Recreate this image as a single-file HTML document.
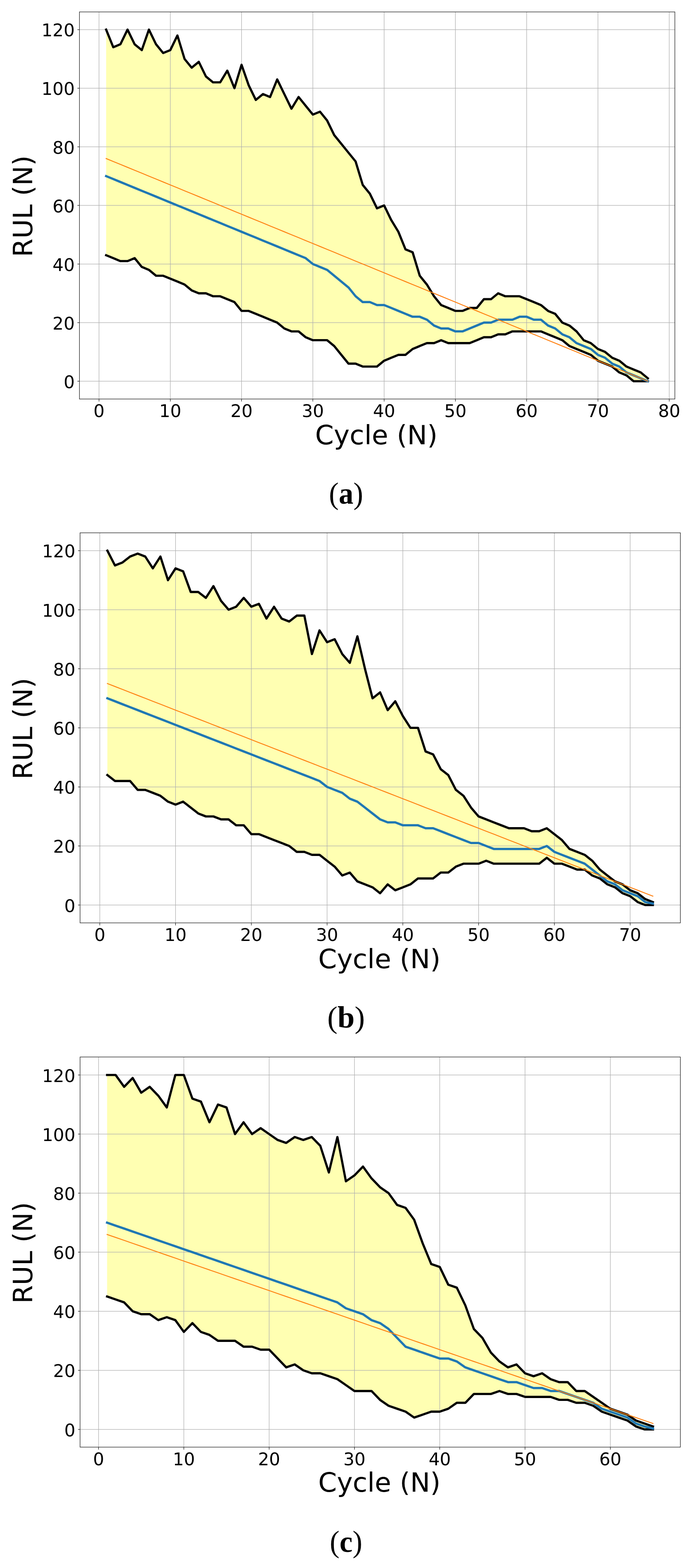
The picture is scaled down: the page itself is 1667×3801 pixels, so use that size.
<!DOCTYPE html>
<html><head><meta charset="utf-8"><title>RUL prediction figure</title>
<style>html,body{margin:0;padding:0;background:#fff;}body{width:1667px;height:3801px;overflow:hidden;}svg{display:block;}</style>
</head><body><svg width="1667" height="3801" viewBox="0 0 1667 3801" font-family="DejaVu Sans, sans-serif" fill="#000"><g><path d="M257.17 71.8 L274.44 114.41 L291.71 107.31 L308.98 71.8 L326.25 107.31 L343.52 121.52 L360.79 71.8 L378.06 107.31 L395.33 128.62 L412.6 121.52 L429.87 86 L447.14 142.83 L464.41 164.13 L481.68 149.93 L498.95 185.44 L516.22 199.64 L533.49 199.64 L550.76 171.24 L568.03 213.85 L585.3 157.03 L602.57 206.75 L619.84 242.26 L637.11 228.06 L654.38 235.16 L671.65 192.54 L688.92 228.06 L706.19 263.57 L723.46 235.16 L740.73 256.47 L758 277.77 L775.27 270.67 L792.54 291.98 L809.81 327.49 L827.08 348.8 L844.35 370.11 L861.62 391.41 L878.89 448.23 L896.16 469.54 L913.43 505.05 L930.7 497.95 L947.97 533.46 L965.24 561.87 L982.51 604.49 L999.78 611.59 L1017.05 668.41 L1034.32 689.72 L1051.59 718.13 L1068.86 739.44 L1086.13 746.54 L1103.4 753.64 L1120.67 753.64 L1137.94 746.54 L1155.21 746.54 L1172.48 725.23 L1189.75 725.23 L1207.02 711.03 L1224.29 718.13 L1241.56 718.13 L1258.83 718.13 L1276.1 725.23 L1293.37 732.33 L1310.64 739.44 L1327.91 753.64 L1345.18 760.74 L1362.45 782.05 L1379.72 789.15 L1396.99 803.36 L1414.26 824.66 L1431.53 831.77 L1448.8 845.97 L1466.07 853.08 L1483.34 867.28 L1500.61 874.38 L1517.88 888.59 L1535.15 895.69 L1552.42 902.79 L1569.69 917 L1569.69 924.1 L1552.42 924.1 L1535.15 924.1 L1517.88 909.89 L1500.61 902.79 L1483.34 888.59 L1466.07 881.49 L1448.8 874.38 L1431.53 860.18 L1414.26 853.08 L1396.99 845.97 L1379.72 838.87 L1362.45 824.66 L1345.18 817.56 L1327.91 810.46 L1310.64 803.36 L1293.37 803.36 L1276.1 803.36 L1258.83 803.36 L1241.56 803.36 L1224.29 810.46 L1207.02 810.46 L1189.75 817.56 L1172.48 817.56 L1155.21 824.66 L1137.94 831.77 L1120.67 831.77 L1103.4 831.77 L1086.13 831.77 L1068.86 824.66 L1051.59 831.77 L1034.32 831.77 L1017.05 838.87 L999.78 845.97 L982.51 860.18 L965.24 860.18 L947.97 867.28 L930.7 874.38 L913.43 888.59 L896.16 888.59 L878.89 888.59 L861.62 881.49 L844.35 881.49 L827.08 860.18 L809.81 838.87 L792.54 824.66 L775.27 824.66 L758 824.66 L740.73 817.56 L723.46 803.36 L706.19 803.36 L688.92 796.25 L671.65 782.05 L654.38 774.95 L637.11 767.85 L619.84 760.74 L602.57 753.64 L585.3 753.64 L568.03 732.33 L550.76 725.23 L533.49 718.13 L516.22 718.13 L498.95 711.03 L481.68 711.03 L464.41 703.92 L447.14 689.72 L429.87 682.62 L412.6 675.51 L395.33 668.41 L378.06 668.41 L360.79 654.21 L343.52 647.1 L326.25 625.8 L308.98 632.9 L291.71 632.9 L274.44 625.8 L257.17 618.69 Z" fill="#ffff00" fill-opacity="0.3"/><path d="M239.9 28.9 V967.3 M412.6 28.9 V967.3 M585.3 28.9 V967.3 M758 28.9 V967.3 M930.7 28.9 V967.3 M1103.4 28.9 V967.3 M1276.1 28.9 V967.3 M1448.8 28.9 V967.3 M1621.5 28.9 V967.3 M192.5 924.1 H1635.2 M192.5 782.05 H1635.2 M192.5 640 H1635.2 M192.5 497.95 H1635.2 M192.5 355.9 H1635.2 M192.5 213.85 H1635.2 M192.5 71.8 H1635.2" stroke="#b0b0b0" stroke-width="1.25" fill="none"/><path d="M257.17 71.8 L274.44 114.41 L291.71 107.31 L308.98 71.8 L326.25 107.31 L343.52 121.52 L360.79 71.8 L378.06 107.31 L395.33 128.62 L412.6 121.52 L429.87 86 L447.14 142.83 L464.41 164.13 L481.68 149.93 L498.95 185.44 L516.22 199.64 L533.49 199.64 L550.76 171.24 L568.03 213.85 L585.3 157.03 L602.57 206.75 L619.84 242.26 L637.11 228.06 L654.38 235.16 L671.65 192.54 L688.92 228.06 L706.19 263.57 L723.46 235.16 L740.73 256.47 L758 277.77 L775.27 270.67 L792.54 291.98 L809.81 327.49 L827.08 348.8 L844.35 370.11 L861.62 391.41 L878.89 448.23 L896.16 469.54 L913.43 505.05 L930.7 497.95 L947.97 533.46 L965.24 561.87 L982.51 604.49 L999.78 611.59 L1017.05 668.41 L1034.32 689.72 L1051.59 718.13 L1068.86 739.44 L1086.13 746.54 L1103.4 753.64 L1120.67 753.64 L1137.94 746.54 L1155.21 746.54 L1172.48 725.23 L1189.75 725.23 L1207.02 711.03 L1224.29 718.13 L1241.56 718.13 L1258.83 718.13 L1276.1 725.23 L1293.37 732.33 L1310.64 739.44 L1327.91 753.64 L1345.18 760.74 L1362.45 782.05 L1379.72 789.15 L1396.99 803.36 L1414.26 824.66 L1431.53 831.77 L1448.8 845.97 L1466.07 853.08 L1483.34 867.28 L1500.61 874.38 L1517.88 888.59 L1535.15 895.69 L1552.42 902.79 L1569.69 917" stroke="#000" stroke-width="5.4" fill="none" stroke-linejoin="round" stroke-linecap="square"/><path d="M257.17 618.69 L274.44 625.8 L291.71 632.9 L308.98 632.9 L326.25 625.8 L343.52 647.1 L360.79 654.21 L378.06 668.41 L395.33 668.41 L412.6 675.51 L429.87 682.62 L447.14 689.72 L464.41 703.92 L481.68 711.03 L498.95 711.03 L516.22 718.13 L533.49 718.13 L550.76 725.23 L568.03 732.33 L585.3 753.64 L602.57 753.64 L619.84 760.74 L637.11 767.85 L654.38 774.95 L671.65 782.05 L688.92 796.25 L706.19 803.36 L723.46 803.36 L740.73 817.56 L758 824.66 L775.27 824.66 L792.54 824.66 L809.81 838.87 L827.08 860.18 L844.35 881.49 L861.62 881.49 L878.89 888.59 L896.16 888.59 L913.43 888.59 L930.7 874.38 L947.97 867.28 L965.24 860.18 L982.51 860.18 L999.78 845.97 L1017.05 838.87 L1034.32 831.77 L1051.59 831.77 L1068.86 824.66 L1086.13 831.77 L1103.4 831.77 L1120.67 831.77 L1137.94 831.77 L1155.21 824.66 L1172.48 817.56 L1189.75 817.56 L1207.02 810.46 L1224.29 810.46 L1241.56 803.36 L1258.83 803.36 L1276.1 803.36 L1293.37 803.36 L1310.64 803.36 L1327.91 810.46 L1345.18 817.56 L1362.45 824.66 L1379.72 838.87 L1396.99 845.97 L1414.26 853.08 L1431.53 860.18 L1448.8 874.38 L1466.07 881.49 L1483.34 888.59 L1500.61 902.79 L1517.88 909.89 L1535.15 924.1 L1552.42 924.1 L1569.69 924.1" stroke="#000" stroke-width="5.4" fill="none" stroke-linejoin="round" stroke-linecap="square"/><path d="M257.17 426.93 L274.44 434.03 L291.71 441.13 L308.98 448.23 L326.25 455.34 L343.52 462.44 L360.79 469.54 L378.06 476.64 L395.33 483.75 L412.6 490.85 L429.87 497.95 L447.14 505.05 L464.41 512.15 L481.68 519.26 L498.95 526.36 L516.22 533.46 L533.49 540.57 L550.76 547.67 L568.03 554.77 L585.3 561.87 L602.57 568.98 L619.84 576.08 L637.11 583.18 L654.38 590.28 L671.65 597.38 L688.92 604.49 L706.19 611.59 L723.46 618.69 L740.73 625.8 L758 640 L775.27 647.1 L792.54 654.21 L809.81 668.41 L827.08 682.62 L844.35 696.82 L861.62 718.13 L878.89 732.33 L896.16 732.33 L913.43 739.44 L930.7 739.44 L947.97 746.54 L965.24 753.64 L982.51 760.74 L999.78 767.85 L1017.05 767.85 L1034.32 774.95 L1051.59 789.15 L1068.86 796.25 L1086.13 796.25 L1103.4 803.36 L1120.67 803.36 L1137.94 796.25 L1155.21 789.15 L1172.48 782.05 L1189.75 782.05 L1207.02 774.95 L1224.29 774.95 L1241.56 774.95 L1258.83 767.85 L1276.1 767.85 L1293.37 774.95 L1310.64 774.95 L1327.91 789.15 L1345.18 796.25 L1362.45 810.46 L1379.72 817.56 L1396.99 831.77 L1414.26 838.87 L1431.53 845.97 L1448.8 860.18 L1466.07 867.28 L1483.34 881.49 L1500.61 888.59 L1517.88 902.79 L1535.15 909.89 L1552.42 917 L1569.69 924.1" stroke="#1f77b4" stroke-width="5.5" fill="none" stroke-linejoin="round" stroke-linecap="square"/><path d="M257.17 384.31 L274.44 391.41 L291.71 398.51 L308.98 405.62 L326.25 412.72 L343.52 419.82 L360.79 426.93 L378.06 434.03 L395.33 441.13 L412.6 448.23 L429.87 455.34 L447.14 462.44 L464.41 469.54 L481.68 476.64 L498.95 483.75 L516.22 490.85 L533.49 497.95 L550.76 505.05 L568.03 512.15 L585.3 519.26 L602.57 526.36 L619.84 533.46 L637.11 540.57 L654.38 547.67 L671.65 554.77 L688.92 561.87 L706.19 568.98 L723.46 576.08 L740.73 583.18 L758 590.28 L775.27 597.38 L792.54 604.49 L809.81 611.59 L827.08 618.69 L844.35 625.8 L861.62 632.9 L878.89 640 L896.16 647.1 L913.43 654.21 L930.7 661.31 L947.97 668.41 L965.24 675.51 L982.51 682.62 L999.78 689.72 L1017.05 696.82 L1034.32 703.92 L1051.59 711.03 L1068.86 718.13 L1086.13 725.23 L1103.4 732.33 L1120.67 739.44 L1137.94 746.54 L1155.21 753.64 L1172.48 760.74 L1189.75 767.85 L1207.02 774.95 L1224.29 782.05 L1241.56 789.15 L1258.83 796.25 L1276.1 803.36 L1293.37 810.46 L1310.64 817.56 L1327.91 824.66 L1345.18 831.77 L1362.45 838.87 L1379.72 845.97 L1396.99 853.08 L1414.26 860.18 L1431.53 867.28 L1448.8 874.38 L1466.07 881.49 L1483.34 888.59 L1500.61 895.69 L1517.88 902.79 L1535.15 909.89 L1552.42 917 L1569.69 924.1" stroke="#ff7f0e" stroke-width="2.2" fill="none" stroke-linejoin="round" stroke-linecap="square"/><rect x="192.5" y="28.9" width="1442.7" height="938.4" fill="none" stroke="#1c1c1c" stroke-width="1.25"/><path d="M239.9 967.3 v6 M412.6 967.3 v6 M585.3 967.3 v6 M758 967.3 v6 M930.7 967.3 v6 M1103.4 967.3 v6 M1276.1 967.3 v6 M1448.8 967.3 v6 M1621.5 967.3 v6 M192.5 924.1 h-5 M192.5 782.05 h-5 M192.5 640 h-5 M192.5 497.95 h-5 M192.5 355.9 h-5 M192.5 213.85 h-5 M192.5 71.8 h-5" stroke="#1c1c1c" stroke-width="1.25" fill="none"/><g font-size="42.2"><text x="239.9" y="1011.3" text-anchor="middle">0</text><text x="412.6" y="1011.3" text-anchor="middle">10</text><text x="585.3" y="1011.3" text-anchor="middle">20</text><text x="758" y="1011.3" text-anchor="middle">30</text><text x="930.7" y="1011.3" text-anchor="middle">40</text><text x="1103.4" y="1011.3" text-anchor="middle">50</text><text x="1276.1" y="1011.3" text-anchor="middle">60</text><text x="1448.8" y="1011.3" text-anchor="middle">70</text><text x="1621.5" y="1011.3" text-anchor="middle">80</text><text x="181" y="940.7" text-anchor="end">0</text><text x="181" y="798.65" text-anchor="end">20</text><text x="181" y="656.6" text-anchor="end">40</text><text x="181" y="514.55" text-anchor="end">60</text><text x="181" y="372.5" text-anchor="end">80</text><text x="181" y="230.45" text-anchor="end">100</text><text x="181" y="88.4" text-anchor="end">120</text></g><text x="911.85" y="1076.8" font-size="64.8" text-anchor="middle">Cycle (N)</text><text transform="translate(77.6 499.9) rotate(-90)" x="0" y="0" font-size="64.3" text-anchor="middle">RUL (N)</text><text transform="translate(838.5 1220.8) scale(0.953 1)" x="0" y="0" font-size="74.5" text-anchor="middle" font-family="Liberation Serif, serif">(<tspan font-weight="bold">a</tspan>)</text></g><g><path d="M260.16 1334.82 L278.51 1370.62 L296.87 1363.46 L315.23 1349.14 L333.59 1341.98 L351.94 1349.14 L370.3 1377.77 L388.66 1349.14 L407.01 1406.41 L425.37 1377.77 L443.73 1384.93 L462.08 1435.05 L480.44 1435.05 L498.8 1449.36 L517.15 1420.73 L535.51 1456.52 L553.87 1478 L572.23 1470.84 L590.58 1449.36 L608.94 1470.84 L627.3 1463.68 L645.65 1499.48 L664.01 1470.84 L682.37 1499.48 L700.72 1506.64 L719.08 1492.32 L737.44 1492.32 L755.8 1585.39 L774.15 1528.11 L792.51 1556.75 L810.87 1549.59 L829.22 1585.39 L847.58 1606.86 L865.94 1542.43 L884.3 1621.18 L902.65 1692.77 L921.01 1678.45 L939.37 1721.41 L957.72 1699.93 L976.08 1735.72 L994.44 1764.36 L1012.79 1764.36 L1031.15 1821.63 L1049.51 1828.79 L1067.87 1864.59 L1086.22 1878.9 L1104.58 1914.7 L1122.94 1929.02 L1141.29 1957.65 L1159.65 1979.13 L1178.01 1986.29 L1196.36 1993.45 L1214.72 2000.61 L1233.08 2007.77 L1251.43 2007.77 L1269.79 2007.77 L1288.15 2014.93 L1306.51 2014.93 L1324.86 2007.77 L1343.22 2022.08 L1361.58 2036.4 L1379.93 2057.88 L1398.29 2065.04 L1416.65 2072.2 L1435 2086.52 L1453.36 2107.99 L1471.72 2122.31 L1490.08 2136.63 L1508.43 2143.79 L1526.79 2158.11 L1545.15 2165.26 L1563.5 2179.58 L1581.86 2186.74 L1581.86 2193.9 L1563.5 2193.9 L1545.15 2186.74 L1526.79 2172.42 L1508.43 2165.26 L1490.08 2150.95 L1471.72 2143.79 L1453.36 2129.47 L1435 2122.31 L1416.65 2107.99 L1398.29 2107.99 L1379.93 2100.83 L1361.58 2093.67 L1343.22 2093.67 L1324.86 2079.36 L1306.51 2093.67 L1288.15 2093.67 L1269.79 2093.67 L1251.43 2093.67 L1233.08 2093.67 L1214.72 2093.67 L1196.36 2093.67 L1178.01 2086.52 L1159.65 2093.67 L1141.29 2093.67 L1122.94 2093.67 L1104.58 2100.83 L1086.22 2115.15 L1067.87 2115.15 L1049.51 2129.47 L1031.15 2129.47 L1012.79 2129.47 L994.44 2143.79 L976.08 2150.95 L957.72 2158.11 L939.37 2143.79 L921.01 2165.26 L902.65 2150.95 L884.3 2143.79 L865.94 2136.63 L847.58 2115.15 L829.22 2122.31 L810.87 2100.83 L792.51 2086.52 L774.15 2072.2 L755.8 2072.2 L737.44 2065.04 L719.08 2065.04 L700.72 2050.72 L682.37 2043.56 L664.01 2036.4 L645.65 2029.24 L627.3 2022.08 L608.94 2022.08 L590.58 2000.61 L572.23 2000.61 L553.87 1986.29 L535.51 1986.29 L517.15 1979.13 L498.8 1979.13 L480.44 1971.97 L462.08 1957.65 L443.73 1943.34 L425.37 1950.49 L407.01 1943.34 L388.66 1929.02 L370.3 1921.86 L351.94 1914.7 L333.59 1914.7 L315.23 1893.22 L296.87 1893.22 L278.51 1893.22 L260.16 1878.9 Z" fill="#ffff00" fill-opacity="0.3"/><path d="M241.8 1291.6 V2237.2 M425.37 1291.6 V2237.2 M608.94 1291.6 V2237.2 M792.51 1291.6 V2237.2 M976.08 1291.6 V2237.2 M1159.65 1291.6 V2237.2 M1343.22 1291.6 V2237.2 M1526.79 1291.6 V2237.2 M194 2193.9 H1648.5 M194 2050.72 H1648.5 M194 1907.54 H1648.5 M194 1764.36 H1648.5 M194 1621.18 H1648.5 M194 1478 H1648.5 M194 1334.82 H1648.5" stroke="#b0b0b0" stroke-width="1.25" fill="none"/><path d="M260.16 1334.82 L278.51 1370.62 L296.87 1363.46 L315.23 1349.14 L333.59 1341.98 L351.94 1349.14 L370.3 1377.77 L388.66 1349.14 L407.01 1406.41 L425.37 1377.77 L443.73 1384.93 L462.08 1435.05 L480.44 1435.05 L498.8 1449.36 L517.15 1420.73 L535.51 1456.52 L553.87 1478 L572.23 1470.84 L590.58 1449.36 L608.94 1470.84 L627.3 1463.68 L645.65 1499.48 L664.01 1470.84 L682.37 1499.48 L700.72 1506.64 L719.08 1492.32 L737.44 1492.32 L755.8 1585.39 L774.15 1528.11 L792.51 1556.75 L810.87 1549.59 L829.22 1585.39 L847.58 1606.86 L865.94 1542.43 L884.3 1621.18 L902.65 1692.77 L921.01 1678.45 L939.37 1721.41 L957.72 1699.93 L976.08 1735.72 L994.44 1764.36 L1012.79 1764.36 L1031.15 1821.63 L1049.51 1828.79 L1067.87 1864.59 L1086.22 1878.9 L1104.58 1914.7 L1122.94 1929.02 L1141.29 1957.65 L1159.65 1979.13 L1178.01 1986.29 L1196.36 1993.45 L1214.72 2000.61 L1233.08 2007.77 L1251.43 2007.77 L1269.79 2007.77 L1288.15 2014.93 L1306.51 2014.93 L1324.86 2007.77 L1343.22 2022.08 L1361.58 2036.4 L1379.93 2057.88 L1398.29 2065.04 L1416.65 2072.2 L1435 2086.52 L1453.36 2107.99 L1471.72 2122.31 L1490.08 2136.63 L1508.43 2143.79 L1526.79 2158.11 L1545.15 2165.26 L1563.5 2179.58 L1581.86 2186.74" stroke="#000" stroke-width="5.4" fill="none" stroke-linejoin="round" stroke-linecap="square"/><path d="M260.16 1878.9 L278.51 1893.22 L296.87 1893.22 L315.23 1893.22 L333.59 1914.7 L351.94 1914.7 L370.3 1921.86 L388.66 1929.02 L407.01 1943.34 L425.37 1950.49 L443.73 1943.34 L462.08 1957.65 L480.44 1971.97 L498.8 1979.13 L517.15 1979.13 L535.51 1986.29 L553.87 1986.29 L572.23 2000.61 L590.58 2000.61 L608.94 2022.08 L627.3 2022.08 L645.65 2029.24 L664.01 2036.4 L682.37 2043.56 L700.72 2050.72 L719.08 2065.04 L737.44 2065.04 L755.8 2072.2 L774.15 2072.2 L792.51 2086.52 L810.87 2100.83 L829.22 2122.31 L847.58 2115.15 L865.94 2136.63 L884.3 2143.79 L902.65 2150.95 L921.01 2165.26 L939.37 2143.79 L957.72 2158.11 L976.08 2150.95 L994.44 2143.79 L1012.79 2129.47 L1031.15 2129.47 L1049.51 2129.47 L1067.87 2115.15 L1086.22 2115.15 L1104.58 2100.83 L1122.94 2093.67 L1141.29 2093.67 L1159.65 2093.67 L1178.01 2086.52 L1196.36 2093.67 L1214.72 2093.67 L1233.08 2093.67 L1251.43 2093.67 L1269.79 2093.67 L1288.15 2093.67 L1306.51 2093.67 L1324.86 2079.36 L1343.22 2093.67 L1361.58 2093.67 L1379.93 2100.83 L1398.29 2107.99 L1416.65 2107.99 L1435 2122.31 L1453.36 2129.47 L1471.72 2143.79 L1490.08 2150.95 L1508.43 2165.26 L1526.79 2172.42 L1545.15 2186.74 L1563.5 2193.9 L1581.86 2193.9" stroke="#000" stroke-width="5.4" fill="none" stroke-linejoin="round" stroke-linecap="square"/><path d="M260.16 1692.77 L278.51 1699.93 L296.87 1707.09 L315.23 1714.25 L333.59 1721.41 L351.94 1728.57 L370.3 1735.72 L388.66 1742.88 L407.01 1750.04 L425.37 1757.2 L443.73 1764.36 L462.08 1771.52 L480.44 1778.68 L498.8 1785.84 L517.15 1793 L535.51 1800.16 L553.87 1807.31 L572.23 1814.47 L590.58 1821.63 L608.94 1828.79 L627.3 1835.95 L645.65 1843.11 L664.01 1850.27 L682.37 1857.43 L700.72 1864.59 L719.08 1871.75 L737.44 1878.9 L755.8 1886.06 L774.15 1893.22 L792.51 1907.54 L810.87 1914.7 L829.22 1921.86 L847.58 1936.18 L865.94 1943.34 L884.3 1957.65 L902.65 1971.97 L921.01 1986.29 L939.37 1993.45 L957.72 1993.45 L976.08 2000.61 L994.44 2000.61 L1012.79 2000.61 L1031.15 2007.77 L1049.51 2007.77 L1067.87 2014.93 L1086.22 2022.08 L1104.58 2029.24 L1122.94 2036.4 L1141.29 2043.56 L1159.65 2043.56 L1178.01 2050.72 L1196.36 2057.88 L1214.72 2057.88 L1233.08 2057.88 L1251.43 2057.88 L1269.79 2057.88 L1288.15 2057.88 L1306.51 2057.88 L1324.86 2050.72 L1343.22 2065.04 L1361.58 2072.2 L1379.93 2079.36 L1398.29 2086.52 L1416.65 2093.67 L1435 2107.99 L1453.36 2122.31 L1471.72 2136.63 L1490.08 2143.79 L1508.43 2158.11 L1526.79 2165.26 L1545.15 2172.42 L1563.5 2186.74 L1581.86 2190.32" stroke="#1f77b4" stroke-width="5.5" fill="none" stroke-linejoin="round" stroke-linecap="square"/><path d="M260.16 1656.98 L278.51 1664.13 L296.87 1671.29 L315.23 1678.45 L333.59 1685.61 L351.94 1692.77 L370.3 1699.93 L388.66 1707.09 L407.01 1714.25 L425.37 1721.41 L443.73 1728.57 L462.08 1735.72 L480.44 1742.88 L498.8 1750.04 L517.15 1757.2 L535.51 1764.36 L553.87 1771.52 L572.23 1778.68 L590.58 1785.84 L608.94 1793 L627.3 1800.16 L645.65 1807.31 L664.01 1814.47 L682.37 1821.63 L700.72 1828.79 L719.08 1835.95 L737.44 1843.11 L755.8 1850.27 L774.15 1857.43 L792.51 1864.59 L810.87 1871.75 L829.22 1878.9 L847.58 1886.06 L865.94 1893.22 L884.3 1900.38 L902.65 1907.54 L921.01 1914.7 L939.37 1921.86 L957.72 1929.02 L976.08 1936.18 L994.44 1943.34 L1012.79 1950.49 L1031.15 1957.65 L1049.51 1964.81 L1067.87 1971.97 L1086.22 1979.13 L1104.58 1986.29 L1122.94 1993.45 L1141.29 2000.61 L1159.65 2007.77 L1178.01 2014.93 L1196.36 2022.08 L1214.72 2029.24 L1233.08 2036.4 L1251.43 2043.56 L1269.79 2050.72 L1288.15 2057.88 L1306.51 2065.04 L1324.86 2072.2 L1343.22 2079.36 L1361.58 2086.52 L1379.93 2093.67 L1398.29 2100.83 L1416.65 2107.99 L1435 2115.15 L1453.36 2122.31 L1471.72 2129.47 L1490.08 2136.63 L1508.43 2143.79 L1526.79 2150.95 L1545.15 2158.11 L1563.5 2165.26 L1581.86 2172.42" stroke="#ff7f0e" stroke-width="2.2" fill="none" stroke-linejoin="round" stroke-linecap="square"/><rect x="194" y="1291.6" width="1454.5" height="945.6" fill="none" stroke="#1c1c1c" stroke-width="1.25"/><path d="M241.8 2237.2 v6 M425.37 2237.2 v6 M608.94 2237.2 v6 M792.51 2237.2 v6 M976.08 2237.2 v6 M1159.65 2237.2 v6 M1343.22 2237.2 v6 M1526.79 2237.2 v6 M194 2193.9 h-5 M194 2050.72 h-5 M194 1907.54 h-5 M194 1764.36 h-5 M194 1621.18 h-5 M194 1478 h-5 M194 1334.82 h-5" stroke="#1c1c1c" stroke-width="1.25" fill="none"/><g font-size="42.2"><text x="241.8" y="2281.2" text-anchor="middle">0</text><text x="425.37" y="2281.2" text-anchor="middle">10</text><text x="608.94" y="2281.2" text-anchor="middle">20</text><text x="792.51" y="2281.2" text-anchor="middle">30</text><text x="976.08" y="2281.2" text-anchor="middle">40</text><text x="1159.65" y="2281.2" text-anchor="middle">50</text><text x="1343.22" y="2281.2" text-anchor="middle">60</text><text x="1526.79" y="2281.2" text-anchor="middle">70</text><text x="182.5" y="2210.5" text-anchor="end">0</text><text x="182.5" y="2067.32" text-anchor="end">20</text><text x="182.5" y="1924.14" text-anchor="end">40</text><text x="182.5" y="1780.96" text-anchor="end">60</text><text x="182.5" y="1637.78" text-anchor="end">80</text><text x="182.5" y="1494.6" text-anchor="end">100</text><text x="182.5" y="1351.42" text-anchor="end">120</text></g><text x="919.25" y="2346.7" font-size="64.8" text-anchor="middle">Cycle (N)</text><text transform="translate(77.6 1766.2) rotate(-90)" x="0" y="0" font-size="64.3" text-anchor="middle">RUL (N)</text><text transform="translate(838.5 2491) scale(1.0 1)" x="0" y="0" font-size="74.5" text-anchor="middle" font-family="Liberation Serif, serif">(<tspan font-weight="bold">b</tspan>)</text></g><g><path d="M259.47 2605.92 L280.13 2605.92 L300.8 2634.56 L321.47 2613.08 L342.13 2648.87 L362.8 2634.56 L383.47 2656.03 L404.14 2684.67 L424.8 2605.92 L445.47 2605.92 L466.14 2663.19 L486.8 2670.35 L507.47 2720.46 L528.14 2677.51 L548.81 2684.67 L569.47 2749.1 L590.14 2720.46 L610.81 2749.1 L631.47 2734.78 L652.14 2749.1 L672.81 2763.42 L693.47 2770.58 L714.14 2756.26 L734.81 2763.42 L755.48 2756.26 L776.14 2777.74 L796.81 2842.17 L817.48 2756.26 L838.14 2863.64 L858.81 2849.33 L879.48 2827.85 L900.14 2856.49 L920.81 2877.96 L941.48 2892.28 L962.14 2920.92 L982.81 2928.07 L1003.48 2956.71 L1024.15 3013.98 L1044.81 3064.1 L1065.48 3071.26 L1086.15 3114.21 L1106.81 3121.37 L1127.48 3164.32 L1148.15 3221.59 L1168.82 3243.07 L1189.48 3278.87 L1210.15 3300.34 L1230.82 3314.66 L1251.48 3307.5 L1272.15 3328.98 L1292.82 3336.14 L1313.48 3328.98 L1334.15 3343.3 L1354.82 3350.46 L1375.49 3350.46 L1396.15 3371.93 L1416.82 3371.93 L1437.49 3386.25 L1458.15 3400.57 L1478.82 3414.89 L1499.49 3422.05 L1520.15 3429.2 L1540.82 3443.52 L1561.49 3450.68 L1582.15 3457.84 L1582.15 3465 L1561.49 3465 L1540.82 3457.84 L1520.15 3443.52 L1499.49 3436.36 L1478.82 3429.2 L1458.15 3422.05 L1437.49 3407.73 L1416.82 3400.57 L1396.15 3400.57 L1375.49 3393.41 L1354.82 3393.41 L1334.15 3386.25 L1313.48 3386.25 L1292.82 3386.25 L1272.15 3386.25 L1251.48 3379.09 L1230.82 3379.09 L1210.15 3371.93 L1189.48 3379.09 L1168.82 3379.09 L1148.15 3379.09 L1127.48 3400.57 L1106.81 3400.57 L1086.15 3414.89 L1065.48 3422.05 L1044.81 3422.05 L1024.15 3429.2 L1003.48 3436.36 L982.81 3422.05 L962.14 3414.89 L941.48 3407.73 L920.81 3393.41 L900.14 3371.93 L879.48 3371.93 L858.81 3371.93 L838.14 3357.61 L817.48 3343.3 L796.81 3336.14 L776.14 3328.98 L755.48 3328.98 L734.81 3321.82 L714.14 3307.5 L693.47 3314.66 L672.81 3293.18 L652.14 3271.71 L631.47 3271.71 L610.81 3264.55 L590.14 3264.55 L569.47 3250.23 L548.81 3250.23 L528.14 3250.23 L507.47 3235.91 L486.8 3228.75 L466.14 3207.28 L445.47 3228.75 L424.8 3200.12 L404.14 3192.96 L383.47 3200.12 L362.8 3185.8 L342.13 3185.8 L321.47 3178.64 L300.8 3157.16 L280.13 3150 L259.47 3142.85 Z" fill="#ffff00" fill-opacity="0.3"/><path d="M238.8 2562.3 V3508 M445.47 2562.3 V3508 M652.14 2562.3 V3508 M858.81 2562.3 V3508 M1065.48 2562.3 V3508 M1272.15 2562.3 V3508 M1478.82 2562.3 V3508 M194 3465 H1648.5 M194 3321.82 H1648.5 M194 3178.64 H1648.5 M194 3035.46 H1648.5 M194 2892.28 H1648.5 M194 2749.1 H1648.5 M194 2605.92 H1648.5" stroke="#b0b0b0" stroke-width="1.25" fill="none"/><path d="M259.47 2605.92 L280.13 2605.92 L300.8 2634.56 L321.47 2613.08 L342.13 2648.87 L362.8 2634.56 L383.47 2656.03 L404.14 2684.67 L424.8 2605.92 L445.47 2605.92 L466.14 2663.19 L486.8 2670.35 L507.47 2720.46 L528.14 2677.51 L548.81 2684.67 L569.47 2749.1 L590.14 2720.46 L610.81 2749.1 L631.47 2734.78 L652.14 2749.1 L672.81 2763.42 L693.47 2770.58 L714.14 2756.26 L734.81 2763.42 L755.48 2756.26 L776.14 2777.74 L796.81 2842.17 L817.48 2756.26 L838.14 2863.64 L858.81 2849.33 L879.48 2827.85 L900.14 2856.49 L920.81 2877.96 L941.48 2892.28 L962.14 2920.92 L982.81 2928.07 L1003.48 2956.71 L1024.15 3013.98 L1044.81 3064.1 L1065.48 3071.26 L1086.15 3114.21 L1106.81 3121.37 L1127.48 3164.32 L1148.15 3221.59 L1168.82 3243.07 L1189.48 3278.87 L1210.15 3300.34 L1230.82 3314.66 L1251.48 3307.5 L1272.15 3328.98 L1292.82 3336.14 L1313.48 3328.98 L1334.15 3343.3 L1354.82 3350.46 L1375.49 3350.46 L1396.15 3371.93 L1416.82 3371.93 L1437.49 3386.25 L1458.15 3400.57 L1478.82 3414.89 L1499.49 3422.05 L1520.15 3429.2 L1540.82 3443.52 L1561.49 3450.68 L1582.15 3457.84" stroke="#000" stroke-width="5.4" fill="none" stroke-linejoin="round" stroke-linecap="square"/><path d="M259.47 3142.85 L280.13 3150 L300.8 3157.16 L321.47 3178.64 L342.13 3185.8 L362.8 3185.8 L383.47 3200.12 L404.14 3192.96 L424.8 3200.12 L445.47 3228.75 L466.14 3207.28 L486.8 3228.75 L507.47 3235.91 L528.14 3250.23 L548.81 3250.23 L569.47 3250.23 L590.14 3264.55 L610.81 3264.55 L631.47 3271.71 L652.14 3271.71 L672.81 3293.18 L693.47 3314.66 L714.14 3307.5 L734.81 3321.82 L755.48 3328.98 L776.14 3328.98 L796.81 3336.14 L817.48 3343.3 L838.14 3357.61 L858.81 3371.93 L879.48 3371.93 L900.14 3371.93 L920.81 3393.41 L941.48 3407.73 L962.14 3414.89 L982.81 3422.05 L1003.48 3436.36 L1024.15 3429.2 L1044.81 3422.05 L1065.48 3422.05 L1086.15 3414.89 L1106.81 3400.57 L1127.48 3400.57 L1148.15 3379.09 L1168.82 3379.09 L1189.48 3379.09 L1210.15 3371.93 L1230.82 3379.09 L1251.48 3379.09 L1272.15 3386.25 L1292.82 3386.25 L1313.48 3386.25 L1334.15 3386.25 L1354.82 3393.41 L1375.49 3393.41 L1396.15 3400.57 L1416.82 3400.57 L1437.49 3407.73 L1458.15 3422.05 L1478.82 3429.2 L1499.49 3436.36 L1520.15 3443.52 L1540.82 3457.84 L1561.49 3465 L1582.15 3465" stroke="#000" stroke-width="5.4" fill="none" stroke-linejoin="round" stroke-linecap="square"/><path d="M259.47 2963.87 L280.13 2971.03 L300.8 2978.19 L321.47 2985.35 L342.13 2992.51 L362.8 2999.66 L383.47 3006.82 L404.14 3013.98 L424.8 3021.14 L445.47 3028.3 L466.14 3035.46 L486.8 3042.62 L507.47 3049.78 L528.14 3056.94 L548.81 3064.1 L569.47 3071.26 L590.14 3078.41 L610.81 3085.57 L631.47 3092.73 L652.14 3099.89 L672.81 3107.05 L693.47 3114.21 L714.14 3121.37 L734.81 3128.53 L755.48 3135.69 L776.14 3142.85 L796.81 3150 L817.48 3157.16 L838.14 3171.48 L858.81 3178.64 L879.48 3185.8 L900.14 3200.12 L920.81 3207.28 L941.48 3221.59 L962.14 3243.07 L982.81 3264.55 L1003.48 3271.71 L1024.15 3278.87 L1044.81 3286.03 L1065.48 3293.18 L1086.15 3293.18 L1106.81 3300.34 L1127.48 3314.66 L1148.15 3321.82 L1168.82 3328.98 L1189.48 3336.14 L1210.15 3343.3 L1230.82 3350.46 L1251.48 3350.46 L1272.15 3357.61 L1292.82 3364.77 L1313.48 3364.77 L1334.15 3371.93 L1354.82 3371.93 L1375.49 3379.09 L1396.15 3386.25 L1416.82 3393.41 L1437.49 3400.57 L1458.15 3414.89 L1478.82 3422.05 L1499.49 3429.2 L1520.15 3436.36 L1540.82 3450.68 L1561.49 3457.84 L1582.15 3462.85" stroke="#1f77b4" stroke-width="5.5" fill="none" stroke-linejoin="round" stroke-linecap="square"/><path d="M259.47 2992.51 L280.13 2999.66 L300.8 3006.82 L321.47 3013.98 L342.13 3021.14 L362.8 3028.3 L383.47 3035.46 L404.14 3042.62 L424.8 3049.78 L445.47 3056.94 L466.14 3064.1 L486.8 3071.26 L507.47 3078.41 L528.14 3085.57 L548.81 3092.73 L569.47 3099.89 L590.14 3107.05 L610.81 3114.21 L631.47 3121.37 L652.14 3128.53 L672.81 3135.69 L693.47 3142.85 L714.14 3150 L734.81 3157.16 L755.48 3164.32 L776.14 3171.48 L796.81 3178.64 L817.48 3185.8 L838.14 3192.96 L858.81 3200.12 L879.48 3207.28 L900.14 3214.43 L920.81 3221.59 L941.48 3228.75 L962.14 3235.91 L982.81 3243.07 L1003.48 3250.23 L1024.15 3257.39 L1044.81 3264.55 L1065.48 3271.71 L1086.15 3278.87 L1106.81 3286.03 L1127.48 3293.18 L1148.15 3300.34 L1168.82 3307.5 L1189.48 3314.66 L1210.15 3321.82 L1230.82 3328.98 L1251.48 3336.14 L1272.15 3343.3 L1292.82 3350.46 L1313.48 3357.61 L1334.15 3364.77 L1354.82 3371.93 L1375.49 3379.09 L1396.15 3386.25 L1416.82 3393.41 L1437.49 3400.57 L1458.15 3407.73 L1478.82 3414.89 L1499.49 3422.05 L1520.15 3429.2 L1540.82 3436.36 L1561.49 3443.52 L1582.15 3450.68" stroke="#ff7f0e" stroke-width="2.2" fill="none" stroke-linejoin="round" stroke-linecap="square"/><rect x="194" y="2562.3" width="1454.5" height="945.7" fill="none" stroke="#1c1c1c" stroke-width="1.25"/><path d="M238.8 3508 v6 M445.47 3508 v6 M652.14 3508 v6 M858.81 3508 v6 M1065.48 3508 v6 M1272.15 3508 v6 M1478.82 3508 v6 M194 3465 h-5 M194 3321.82 h-5 M194 3178.64 h-5 M194 3035.46 h-5 M194 2892.28 h-5 M194 2749.1 h-5 M194 2605.92 h-5" stroke="#1c1c1c" stroke-width="1.25" fill="none"/><g font-size="42.2"><text x="238.8" y="3552" text-anchor="middle">0</text><text x="445.47" y="3552" text-anchor="middle">10</text><text x="652.14" y="3552" text-anchor="middle">20</text><text x="858.81" y="3552" text-anchor="middle">30</text><text x="1065.48" y="3552" text-anchor="middle">40</text><text x="1272.15" y="3552" text-anchor="middle">50</text><text x="1478.82" y="3552" text-anchor="middle">60</text><text x="182.5" y="3481.6" text-anchor="end">0</text><text x="182.5" y="3338.42" text-anchor="end">20</text><text x="182.5" y="3195.24" text-anchor="end">40</text><text x="182.5" y="3052.06" text-anchor="end">60</text><text x="182.5" y="2908.88" text-anchor="end">80</text><text x="182.5" y="2765.7" text-anchor="end">100</text><text x="182.5" y="2622.52" text-anchor="end">120</text></g><text x="919.25" y="3616" font-size="64.8" text-anchor="middle">Cycle (N)</text><text transform="translate(77.6 3036.95) rotate(-90)" x="0" y="0" font-size="64.3" text-anchor="middle">RUL (N)</text><text transform="translate(838.5 3761.6) scale(0.953 1)" x="0" y="0" font-size="74.5" text-anchor="middle" font-family="Liberation Serif, serif">(<tspan font-weight="bold">c</tspan>)</text></g></svg></body></html>
